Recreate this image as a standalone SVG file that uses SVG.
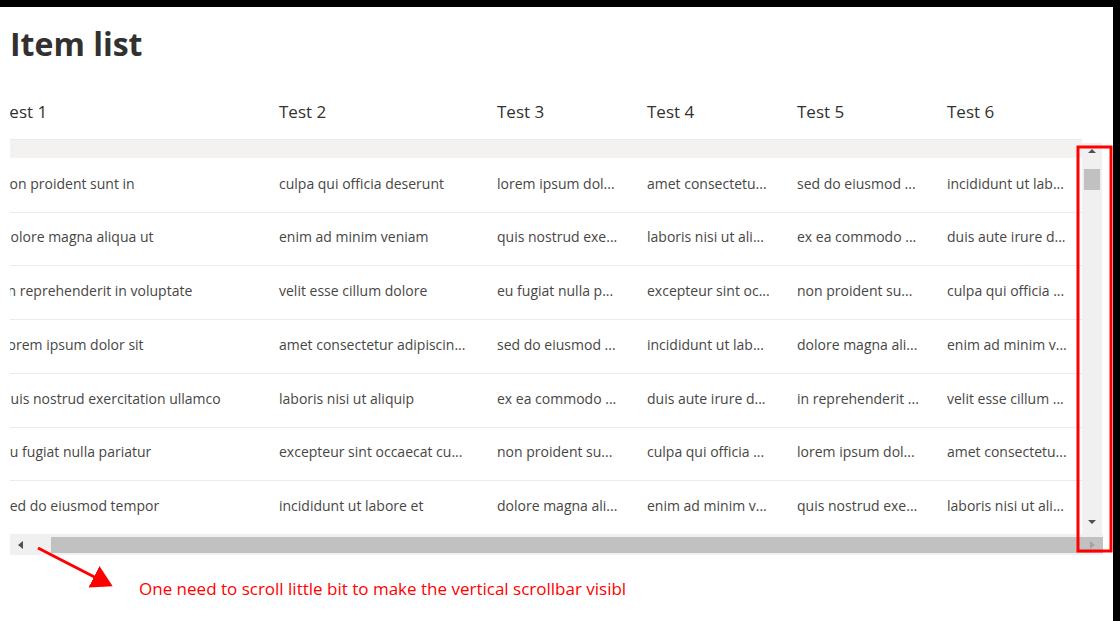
<svg xmlns="http://www.w3.org/2000/svg" width="1120" height="621" viewBox="0 0 1120 621">
<style>
.t{font-family:"Open Sans","Noto Sans",sans-serif;font-size:14px;fill:#484644}
.h{font-family:"Open Sans","Noto Sans",sans-serif;font-size:17px;fill:#323130}
.sep{stroke:#edebe9;stroke-width:1}
</style>
<defs>
<clipPath id="c"><rect x="10" y="0" width="1072" height="621"/></clipPath>
<marker id="ah" markerWidth="8" markerHeight="8" refX="6" refY="4" orient="auto" markerUnits="strokeWidth"><path d="M0,0 L7,4 L0,8 Z" fill="#f00"/></marker>
</defs>
<rect width="1120" height="621" fill="#fff"/>
<rect x="0" y="0" width="1120" height="7" fill="#000"/>
<rect x="1113" y="0" width="7" height="621" fill="#000"/>
<text x="10" y="56" font-family="'Open Sans','Noto Sans',sans-serif" font-size="32" font-weight="bold" fill="#323130">Item list</text>
<g id="table" clip-path="url(#c)">
<g class="h">
<text x="0" y="118">Test 1</text><text x="279" y="118">Test 2</text><text x="497" y="118">Test 3</text><text x="647" y="118">Test 4</text><text x="797" y="118">Test 5</text><text x="947" y="118">Test 6</text>
</g>
<rect x="10" y="140" width="1072" height="18" fill="#f3f2f1"/>
<line class="sep" x1="10" y1="139.5" x2="1082" y2="139.5"/>
<g>
<line class="sep" x1="10" y1="212.5" x2="1082" y2="212.5"/>
<line class="sep" x1="10" y1="265.5" x2="1082" y2="265.5"/>
<line class="sep" x1="10" y1="319.5" x2="1082" y2="319.5"/>
<line class="sep" x1="10" y1="373.5" x2="1082" y2="373.5"/>
<line class="sep" x1="10" y1="427.5" x2="1082" y2="427.5"/>
<line class="sep" x1="10" y1="480.5" x2="1082" y2="480.5"/>
</g>
<g class="t">
<text x="1" y="189">non proident sunt in</text><text x="279" y="189">culpa qui officia deserunt</text><text x="497" y="189">lorem ipsum dol...</text><text x="647" y="189">amet consectetu...</text><text x="797" y="189">sed do eiusmod ...</text><text x="947" y="189">incididunt ut lab...</text>
<text x="2" y="242">dolore magna aliqua ut</text><text x="279" y="242">enim ad minim veniam</text><text x="497" y="242">quis nostrud exe...</text><text x="647" y="242">laboris nisi ut ali...</text><text x="797" y="242">ex ea commodo ...</text><text x="947" y="242">duis aute irure d...</text>
<text x="4" y="296">in reprehenderit in voluptate</text><text x="279" y="296">velit esse cillum dolore</text><text x="497" y="296">eu fugiat nulla p...</text><text x="647" y="296">excepteur sint oc...</text><text x="797" y="296">non proident su...</text><text x="947" y="296">culpa qui officia ...</text>
<text x="4" y="350">lorem ipsum dolor sit</text><text x="279" y="350">amet consectetur adipiscin...</text><text x="497" y="350">sed do eiusmod ...</text><text x="647" y="350">incididunt ut lab...</text><text x="797" y="350">dolore magna ali...</text><text x="947" y="350">enim ad minim v...</text>
<text x="2" y="404">quis nostrud exercitation ullamco</text><text x="279" y="404">laboris nisi ut aliquip</text><text x="497" y="404">ex ea commodo ...</text><text x="647" y="404">duis aute irure d...</text><text x="797" y="404">in reprehenderit ...</text><text x="947" y="404">velit esse cillum ...</text>
<text x="2" y="457">eu fugiat nulla pariatur</text><text x="279" y="457">excepteur sint occaecat cu...</text><text x="497" y="457">non proident su...</text><text x="647" y="457">culpa qui officia ...</text><text x="797" y="457">lorem ipsum dol...</text><text x="947" y="457">amet consectetu...</text>
<text x="3" y="511">sed do eiusmod tempor</text><text x="279" y="511">incididunt ut labore et</text><text x="497" y="511">dolore magna ali...</text><text x="647" y="511">enim ad minim v...</text><text x="797" y="511">quis nostrud exe...</text><text x="947" y="511">laboris nisi ut ali...</text>
</g>
</g>
<g id="hscroll">
<rect x="10" y="534" width="1093" height="21" fill="#f0f0f0"/>
<rect x="51" y="537" width="1052" height="16" fill="#c1c1c1"/>
<path d="M23,541 L18,545 L23,549 Z" fill="#505050"/>
<path d="M1090,541 L1095,545 L1090,549 Z" fill="#a3a3a3"/>
</g>
<g id="vscroll">
<rect x="1082" y="143" width="20" height="391" fill="#f0f0f0"/>
<rect x="1084" y="169" width="16" height="21" fill="#c1c1c1"/>
<path d="M1088,153 L1092,149 L1096,153 Z" fill="#505050"/>
<path d="M1088,520 L1092,524 L1096,520 Z" fill="#505050"/>
</g>
<g id="annotation">
<rect x="1078" y="147" width="33" height="404" fill="none" stroke="#f00" stroke-width="3"/>
<line x1="38" y1="548" x2="110" y2="585" stroke="#f00" stroke-width="3" marker-end="url(#ah)"/>
<text x="139" y="595" font-family="'Open Sans','Noto Sans',sans-serif" font-size="17" fill="#f00">One need to scroll little bit to make the vertical scrollbar visibl</text>
</g>
</svg>
